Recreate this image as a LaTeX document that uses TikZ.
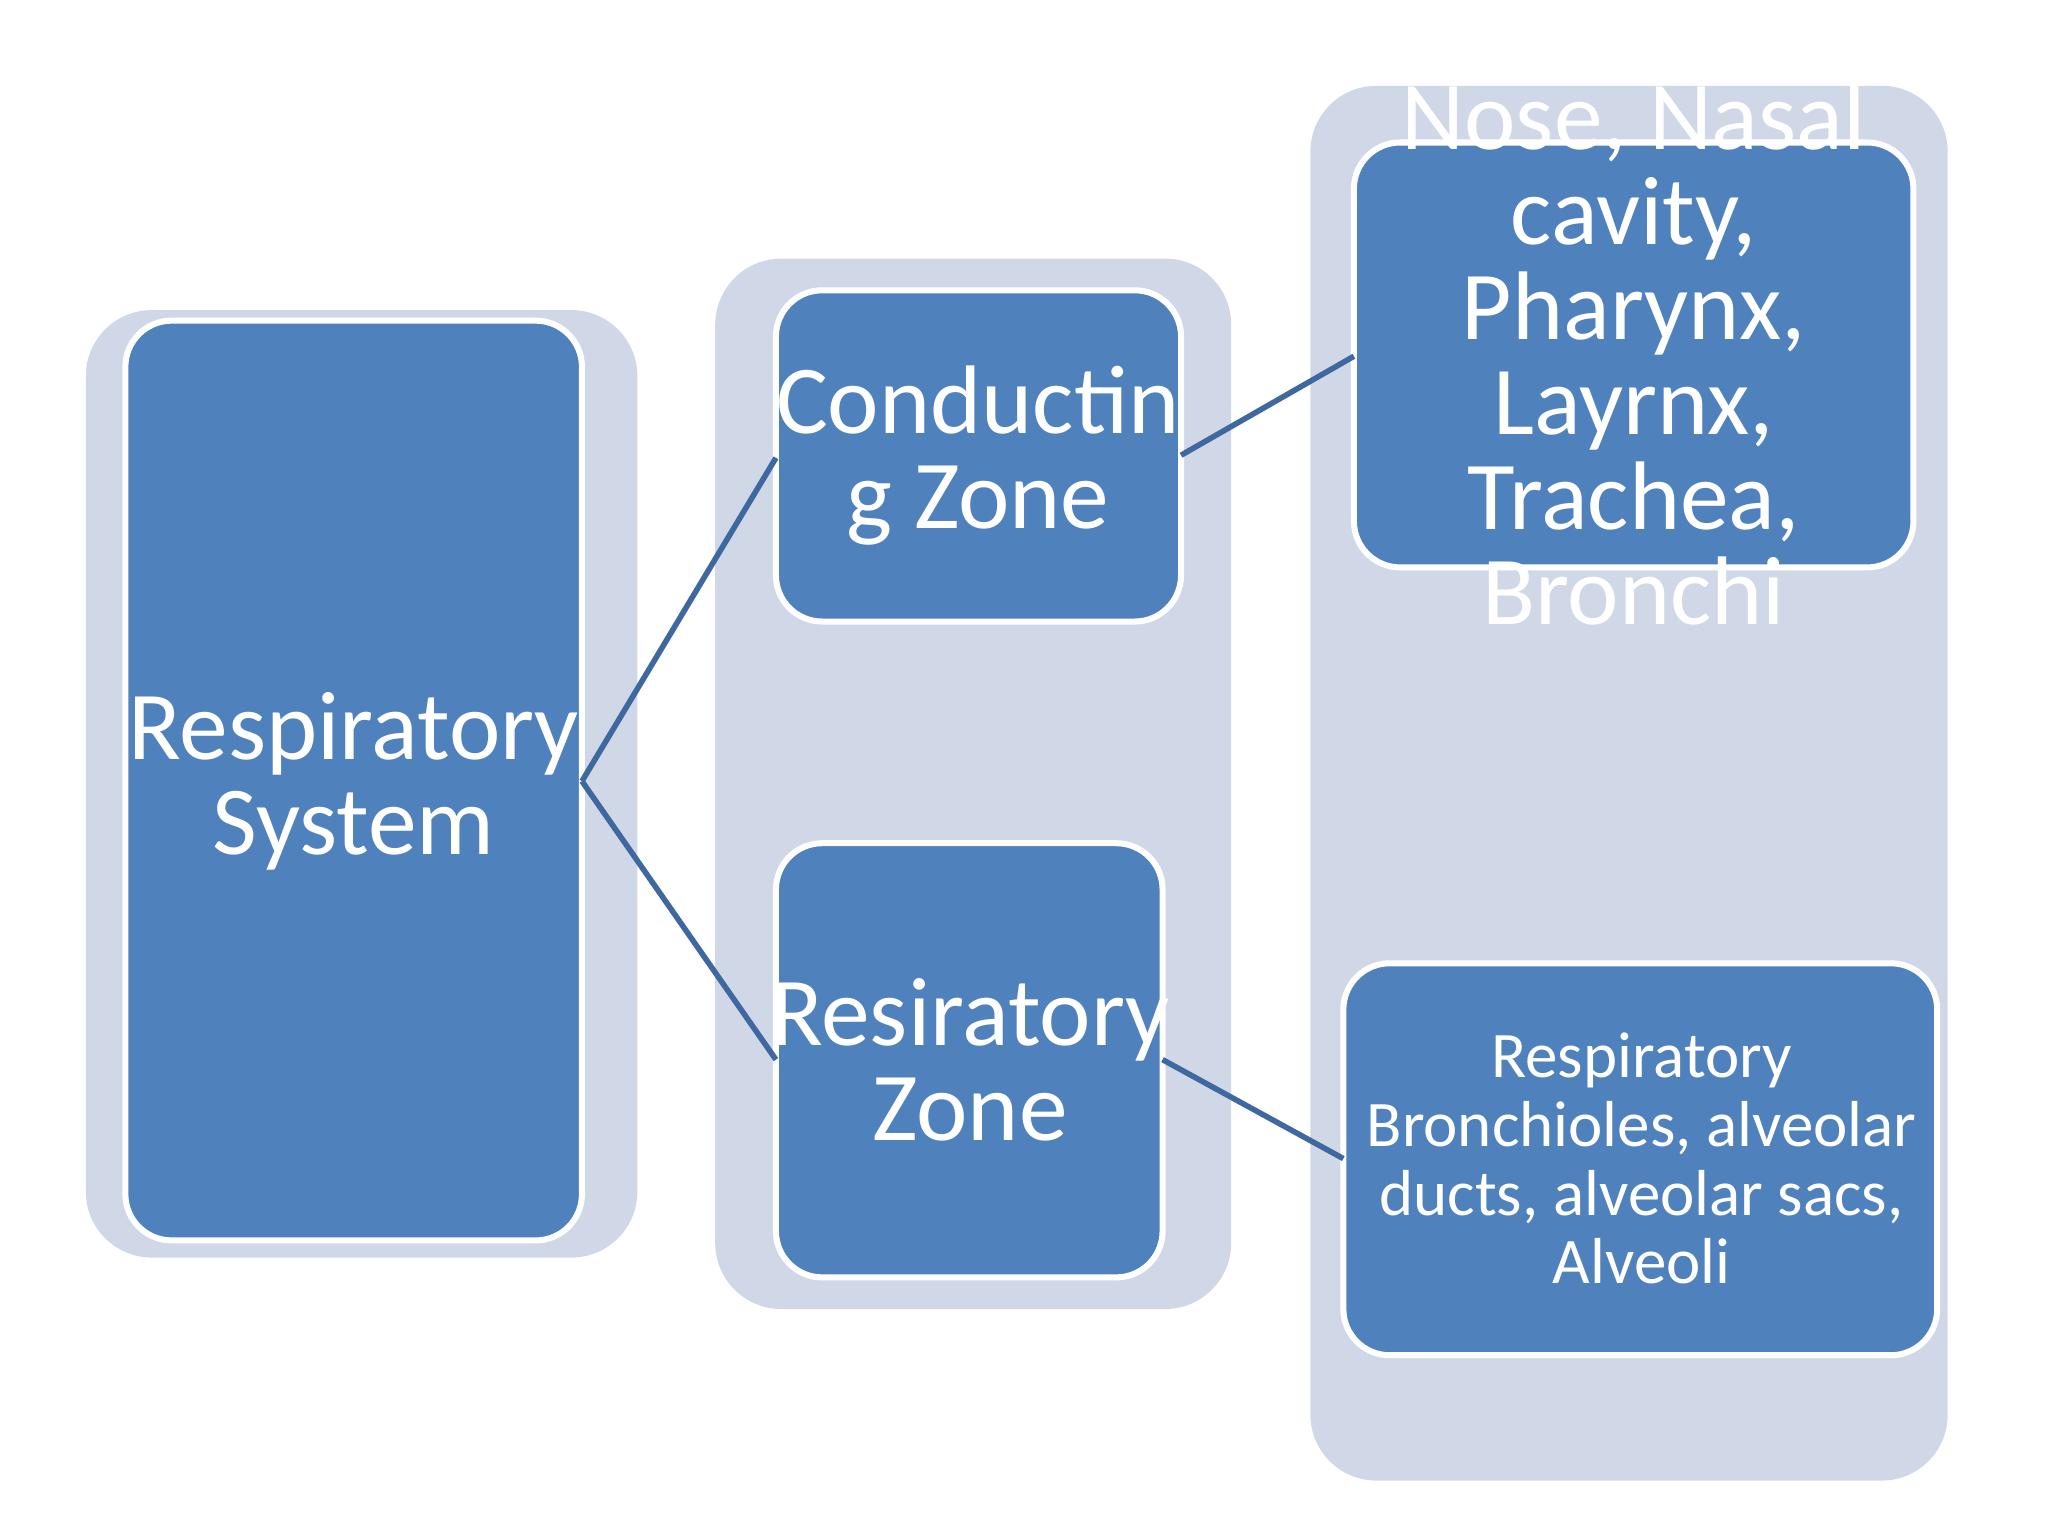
\documentclass[tikz,border=0pt]{standalone}
\usepackage{fontspec}
\setmainfont{Carlito}
\definecolor{panel}{RGB}{208,216,232}
\definecolor{boxblue}{RGB}{79,129,189}
\definecolor{linkblue}{RGB}{64,104,160}
\begin{document}
\begin{tikzpicture}[x=0.01cm, y=-0.01cm,
  panel/.style={fill=panel, rounded corners=0.5cm},
  box/.style={draw=white, line width=1.3pt, fill=boxblue, rounded corners=0.35cm},
  big/.style={text=white, font=\fontsize{21}{20.5}\selectfont, align=center},
  small/.style={text=white, font=\fontsize{14}{14.8}\selectfont, align=center},
  link/.style={draw=linkblue, line width=1.2pt}]
\useasboundingbox (0,0) rectangle (1552,1164);
% background columns
\fill[panel] (65,235) rectangle (483,953);
\fill[panel] (542,196) rectangle (933,992);
\fill[panel] (993,65) rectangle (1476,1122);
% boxes
\draw[box] (95,243) rectangle (441,940);
\draw[box] (588,220) rectangle (895,471);
\draw[box] (588,639) rectangle (881,968);
\draw[box] (1026,108) rectangle (1450,430);
\draw[box] (1018,730) rectangle (1468,1027);
% anchors for the links
\coordinate (rs) at (441,592);
\coordinate (cz-w) at (588,347);
\coordinate (cz-e) at (895,345);
\coordinate (rz-w) at (588,803);
\coordinate (rz-e) at (881,803);
\coordinate (up-w) at (1026,270);
\coordinate (lo-w) at (1018,878);
% texts
\node[big] (resp) at (268,592) {Respiratory\\System};
\node[big] (cond) at (741,345) {Conductin\\g Zone};
\node[big] (resz) at (735,803) {Resiratory\\Zone};
\node[big] (upper) at (1238,268) {Nose, Nasal\\cavity,\\Pharynx,\\Layrnx,\\Trachea,\\Bronchi};
\node[small] (lower) at (1244,878) {Respiratory\\Bronchioles, alveolar\\ducts, alveolar sacs,\\Alveoli};
% links
\draw[link] (rs) -- (cz-w);
\draw[link] (rs) -- (rz-w);
\draw[link] (cz-e) -- (up-w);
\draw[link] (rz-e) -- (lo-w);
\end{tikzpicture}
\end{document}
